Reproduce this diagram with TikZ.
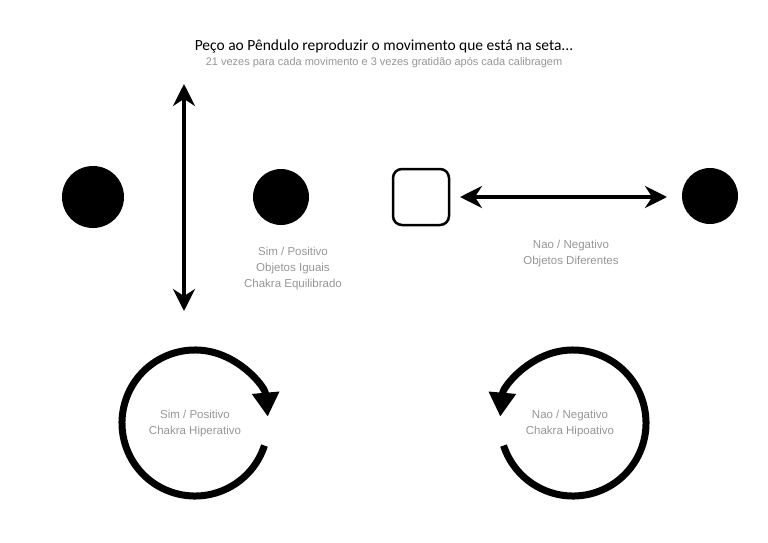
\documentclass[tikz,border=0pt]{standalone}
\usepackage{fontspec}
\setmainfont{Liberation Sans}
\newfontfamily\titlefont{Carlito}
\usetikzlibrary{arrows.meta}
\definecolor{lbl}{RGB}{150,150,150}
\begin{document}
\begin{tikzpicture}[x=1pt,y=-1pt,
  lab/.style={text=lbl,font=\fontsize{11.5}{16}\selectfont,align=center},
  dot/.style={circle,fill=black,inner sep=0pt},
  dbl/.style={line width=4pt,{Stealth[length=22pt,width=22pt]}-{Stealth[length=22pt,width=22pt]}},
  ring/.style={line width=7pt,-{Triangle[length=24pt,width=26pt]}}]
\useasboundingbox (0,0) rectangle (768,543);
\node (t) at (384,46) {\titlefont\fontsize{15.5}{18}\selectfont Peço ao Pêndulo reproduzir o movimento que está na seta...};
\node[text=lbl,font=\fontsize{11}{13}\selectfont] (st) at (384,63) {21 vezes para cada movimento e 3 vezes gratidão após cada calibragem};
\node[dot,minimum size=62pt] (d1) at (93,197) {};
\node[dot,minimum size=56pt] (d2) at (281,197) {};
\node[dot,minimum size=56pt] (d3) at (710,196) {};
\node[draw,line width=2.5pt,rounded corners=9pt,minimum size=56pt] (sq) at (421,197) {};
\coordinate (vt) at (184,84);
\coordinate (vb) at (184,311);
\draw[dbl] (vt) -- (vb);
\coordinate (hl) at (460,197);
\coordinate (hr) at (667,197);
\draw[dbl] (hl) -- (hr);
\node[lab] (l1) at (293,269) {Sim / Positivo\\Objetos Iguais\\Chakra Equilibrado};
\node[lab] (l2) at (571,254) {Nao / Negativo\\Objetos Diferentes};
\coordinate (c1) at (195,423);
\coordinate (c2) at (573,423);
\draw[ring] ([shift={(18:73)}]c1) arc[start angle=18,end angle=355,radius=73];
\draw[ring] ([shift={(162:73)}]c2) arc[start angle=162,end angle=-175,radius=73];
\node[lab] (l3) at (195,424) {Sim / Positivo\\Chakra Hiperativo};
\node[lab] (l4) at (570,424) {Nao / Negativo\\Chakra Hipoativo};
\end{tikzpicture}
\end{document}
